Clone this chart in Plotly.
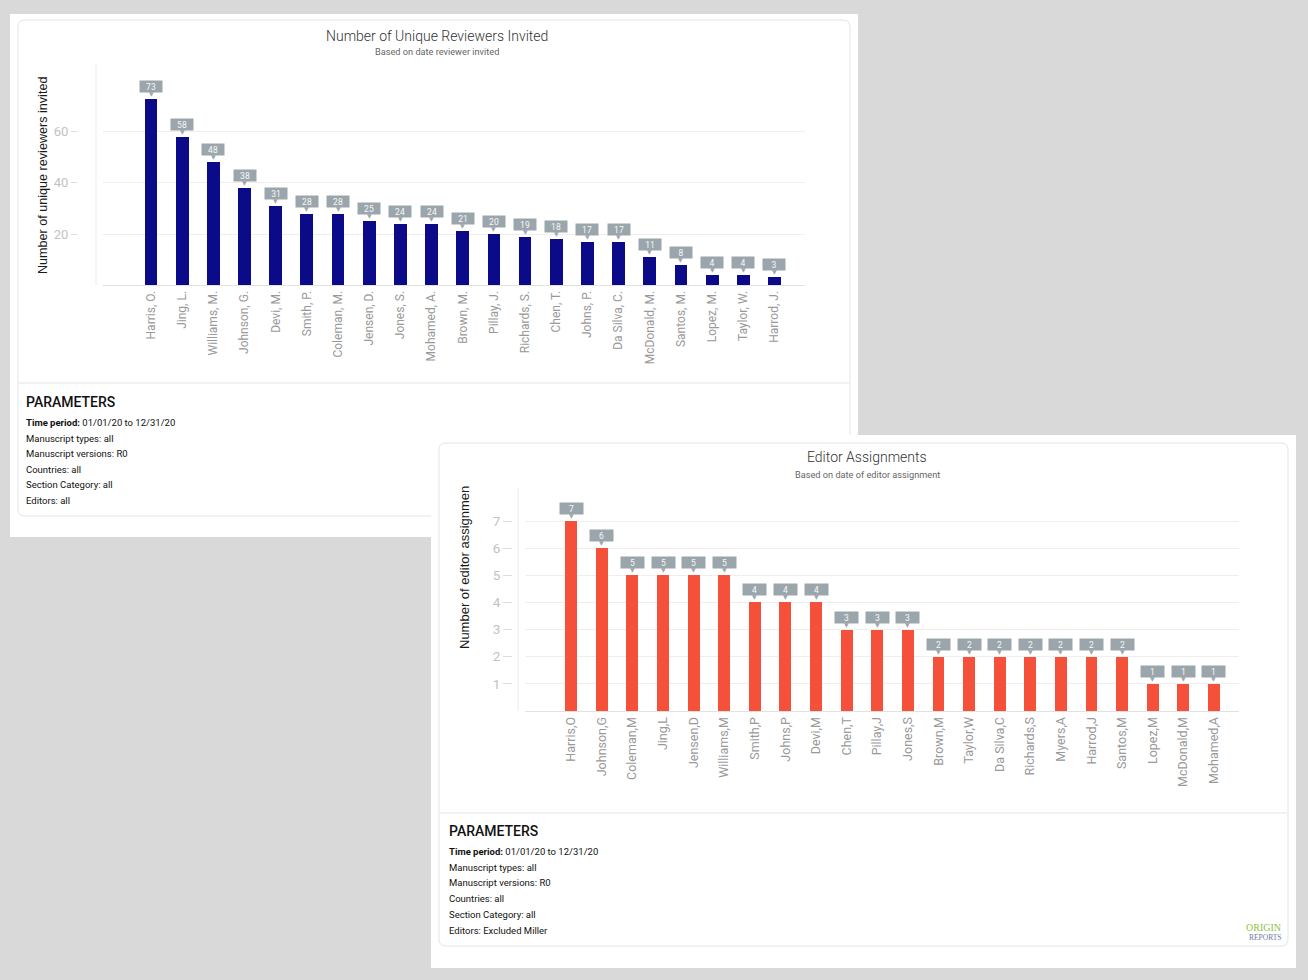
import plotly.graph_objects as go

W, H = 1308, 980

# ---------------- data ----------------
rev_names = ["Harris, O.", "Jing, L.", "Williams, M.", "Johnson, G.", "Devi, M.", "Smith, P.",
             "Coleman, M.", "Jensen, D.", "Jones, S.", "Mohamed, A.", "Brown, M.", "Pillay, J.",
             "Richards, S.", "Chen, T.", "Johns, P.", "Da Silva, C.", "McDonald, M.", "Santos, M.",
             "Lopez, M.", "Taylor, W.", "Harrod, J."]
rev_values = [73, 58, 48, 38, 31, 28, 28, 25, 24, 24, 21, 20, 19, 18, 17, 17, 11, 8, 4, 4, 3]
rev_ticks = [20, 40, 60]

ed_names = ["Harris,O", "Johnson,G", "Coleman,M", "Jing,L", "Jensen,D", "Williams,M", "Smith,P",
            "Johns,P", "Devi,M", "Chen,T", "Pillay,J", "Jones,S", "Brown,M", "Taylor,W",
            "Da Silva,C", "Richards,S", "Myers,A", "Harrod,J", "Santos,M", "Lopez,M",
            "McDonald,M", "Mohamed,A"]
ed_values = [7, 6, 5, 5, 5, 5, 4, 4, 4, 3, 3, 3, 2, 2, 2, 2, 2, 2, 2, 1, 1, 1]
ed_ticks = [1, 2, 3, 4, 5, 6, 7]

rev_params = ["Manuscript types: all", "Manuscript versions: R0", "Countries: all",
              "Section Category: all", "Editors: all"]
ed_params = ["Manuscript types: all", "Manuscript versions: R0", "Countries: all",
             "Section Category: all", "Editors: Excluded Miller"]
time_period = "01/01/20 to 12/31/20"

# ---------------- styles ----------------
BG = "#d9d9d9"
NAVY = "#0b0b8a"
RED = "#f5503a"
LBL = "#9ba6ac"
GRID = "#eeeeee"
FONT = "Roboto"


def px(x):
    return x / W


def py(y):
    return 1 - y / H


def rrect(x0, y0, x1, y1, r):
    pts = [
        f"M {px(x0 + r)},{py(y0)}",
        f"L {px(x1 - r)},{py(y0)}",
        f"Q {px(x1)},{py(y0)} {px(x1)},{py(y0 + r)}",
        f"L {px(x1)},{py(y1 - r)}",
        f"Q {px(x1)},{py(y1)} {px(x1 - r)},{py(y1)}",
        f"L {px(x0 + r)},{py(y1)}",
        f"Q {px(x0)},{py(y1)} {px(x0)},{py(y1 - r)}",
        f"L {px(x0)},{py(y0 + r)}",
        f"Q {px(x0)},{py(y0)} {px(x0 + r)},{py(y0)}",
        "Z",
    ]
    return " ".join(pts)


fig = go.Figure()

fig.add_trace(go.Bar(x=rev_names, y=rev_values, marker=dict(color=NAVY, line=dict(width=0)),
                     width=0.41, xaxis="x", yaxis="y", hoverinfo="skip", showlegend=False))
fig.add_trace(go.Scatter(x=rev_names, y=rev_values, mode="markers", marker=dict(opacity=0),
                         xaxis="x", yaxis="y3", hoverinfo="skip", showlegend=False))
fig.add_trace(go.Bar(x=ed_names, y=ed_values, marker=dict(color=RED, line=dict(width=0)),
                     width=0.39, xaxis="x2", yaxis="y2", hoverinfo="skip", showlegend=False))
fig.add_trace(go.Scatter(x=ed_names, y=ed_values, mode="markers", marker=dict(opacity=0),
                         xaxis="x2", yaxis="y4", hoverinfo="skip", showlegend=False))

shapes = []
# panel 1
shapes.append(dict(type="rect", xref="paper", yref="paper", x0=px(10), x1=px(858), y0=py(537), y1=py(14),
                   fillcolor="white", line=dict(width=0), layer="below"))
shapes.append(dict(type="path", xref="paper", yref="paper", path=rrect(18, 20, 850, 516, 7),
                   fillcolor="white", line=dict(color="#e4e4e4", width=1), layer="below"))
shapes.append(dict(type="line", xref="paper", yref="paper", x0=px(19), x1=px(849), y0=py(383), y1=py(383),
                   line=dict(color="#f1f1f1", width=2), layer="below"))
shapes.append(dict(type="line", xref="paper", yref="paper", x0=px(96), x1=px(96), y0=py(285), y1=py(64),
                   line=dict(color="#ececec", width=1), layer="below"))
# panel 2
shapes.append(dict(type="rect", xref="paper", yref="paper", x0=px(431), x1=px(1296), y0=py(968), y1=py(435),
                   fillcolor="white", line=dict(width=0), layer="below"))
shapes.append(dict(type="path", xref="paper", yref="paper", path=rrect(439, 443, 1288, 946, 7),
                   fillcolor="white", line=dict(color="#e4e4e4", width=1), layer="below"))
shapes.append(dict(type="line", xref="paper", yref="paper", x0=px(440), x1=px(1287), y0=py(813), y1=py(813),
                   line=dict(color="#f1f1f1", width=2), layer="below"))
shapes.append(dict(type="line", xref="paper", yref="paper", x0=px(518), x1=px(518), y0=py(711), y1=py(488),
                   line=dict(color="#ececec", width=1), layer="below"))

ann = []


def text(x, y, t, size, color="#222", family=FONT, xanchor="left", angle=0, weight=None):
    f = dict(size=size, color=color, family=family)
    if weight:
        f["weight"] = weight
    ann.append(dict(x=px(x), y=py(y), xref="paper", yref="paper", text=t, showarrow=False,
                    xanchor=xanchor, yanchor="middle", font=f, textangle=angle))


# panel 1 texts
text(437, 36, "Number of Unique Reviewers Invited", 14, "#333", xanchor="center", weight=300)
text(437, 52, "Based on date reviewer invited", 9.2, "#666", xanchor="center")
text(43, 176, "Number of unique reviewers invited", 12.6, "#1a1a1a", family="Liberation Sans",
     xanchor="center", angle=-90)
text(24, 402, "PARAMETERS", 14, "#111", weight=500)
text(24, 422, f"<b>Time period:</b> {time_period}", 9.5, "#111")
for i, t in enumerate(rev_params):
    text(24, 438 + i * 15.5, t, 9.5, "#111")

# panel 2 texts
text(867, 457, "Editor Assignments", 14, "#333", xanchor="center", weight=300)
text(867, 474, "Based on date of editor assignment", 9.2, "#666", xanchor="center")
text(464, 568, "Number of editor assignmen", 13, "#1a1a1a", family="Liberation Sans",
     xanchor="center", angle=-90)
text(447, 831, "PARAMETERS", 14, "#111", weight=500)
text(447, 851, f"<b>Time period:</b> {time_period}", 9.5, "#111")
for i, t in enumerate(ed_params):
    text(447, 867 + i * 15.75, t, 9.5, "#111")

text(1283, 927, "ORIGIN", 10, "#8cc43f", family="Liberation Serif", xanchor="right")
text(1283, 937.5, "REPORTS", 7.5, "#6b7b9c", family="Liberation Serif", xanchor="right")

# data labels
for xa, ya, names, vals, w in (("x", "y", rev_names, rev_values, 20), ("x2", "y2", ed_names, ed_values, 21)):
    for n, v in zip(names, vals):
        ann.append(dict(x=n, y=v, xref=xa, yref=ya, text=str(v), showarrow=False, yanchor="bottom",
                        yshift=6, bgcolor=LBL, width=w, height=9, borderpad=1,
                        font=dict(color="#f7f7f7", size=8.5, family=FONT)))
        ann.append(dict(x=n, y=v, xref=xa, yref=ya, text="▼", showarrow=False, yanchor="bottom",
                        yshift=0, font=dict(color=LBL, size=6, family="DejaVu Sans")))

axis_common = dict(fixedrange=True, zeroline=False)

fig.update_layout(
    width=W, height=H,
    margin=dict(l=0, r=0, t=0, b=0),
    paper_bgcolor=BG, plot_bgcolor="rgba(0,0,0,0)",
    showlegend=False,
    bargap=0,
    shapes=shapes,
    annotations=ann,
    xaxis=dict(domain=[px(103), px(805)], range=[-1.54, 20.98], type="category", anchor="y",
               tickangle=-90, tickfont=dict(family=FONT, size=12, color="#999999"),
               showline=True, linecolor="#e2e2e2", linewidth=1, showgrid=False, ticks="", **axis_common),
    yaxis=dict(domain=[py(285.15), py(65)], range=[0, 86.1], anchor="x", tickvals=rev_ticks,
               showticklabels=False, gridcolor=GRID, gridwidth=1, showline=False, ticks="", **axis_common),
    yaxis3=dict(overlaying="y", anchor="free", position=px(77), side="left", range=[0, 86.1],
                tickvals=rev_ticks, ticks="outside", ticklen=6, tickcolor="#dddddd",
                tickfont=dict(family=FONT, size=13, color="#c2c2c2"), showgrid=False, showline=False,
                **axis_common),
    xaxis2=dict(domain=[px(525), px(1239)], range=[-1.51, 21.82], type="category", anchor="y2",
                tickangle=-90, tickfont=dict(family=FONT, size=12.5, color="#999999"),
                showline=True, linecolor="#e2e2e2", linewidth=1, showgrid=False, ticks="", **axis_common),
    yaxis2=dict(domain=[py(711), py(488)], range=[0, 8.22], anchor="x2", tickvals=ed_ticks,
                showticklabels=False, gridcolor=GRID, gridwidth=1, showline=False, ticks="", **axis_common),
    yaxis4=dict(overlaying="y2", anchor="free", position=px(512), side="left", range=[0, 8.22],
                tickvals=ed_ticks, ticks="outside", ticklen=9, tickcolor="#dddddd",
                tickfont=dict(family=FONT, size=13.5, color="#c2c2c2"), showgrid=False, showline=False,
                **axis_common),
)

fig.write_html("out.html", config={"displayModeBar": False})
